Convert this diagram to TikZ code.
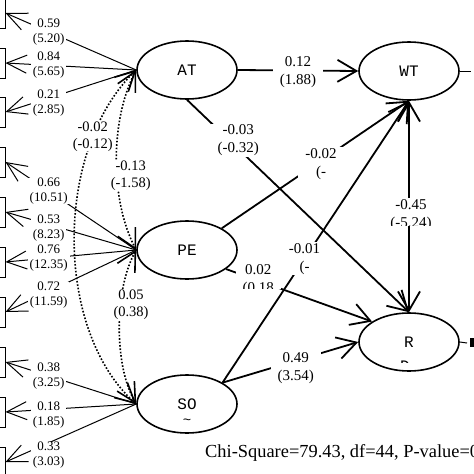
\documentclass[tikz,border=0pt]{standalone}
\usepackage{fontspec}
\setmainfont{Liberation Serif}
\newfontfamily\latfont{Liberation Mono}
\usetikzlibrary{arrows.meta,positioning,shapes.geometric}

\begin{document}
\begin{tikzpicture}[x=1pt,y=-1pt,
    lat/.style={ellipse,draw,line width=1.6pt,minimum width=100pt,minimum height=58pt,inner sep=0pt,font=\latfont\fontsize{16}{17}\selectfont},
    ind/.style={rectangle,draw,line width=1pt,minimum width=30pt,minimum height=30pt,inner sep=0pt},
    load/.style={->,>={Straight Barb[length=20pt,width=18pt]},line width=1pt},
    eff/.style={->,>={Straight Barb[length=19pt,width=22pt]},line width=1.8pt},
    cov/.style={<->,>={Straight Barb[length=19pt,width=20pt]},line width=1.6pt,dash pattern=on 1.6pt off 1.8pt},
    ld/.style={fill=white,align=center,inner xsep=2pt,inner ysep=0pt,font=\fontsize{13}{15}\selectfont},
    cv/.style={fill=white,align=center,inner xsep=2pt,inner ysep=0pt,font=\fontsize{14.5}{17}\selectfont},
    coef/.style={fill=white,align=center,inner xsep=7pt,inner ysep=1pt,font=\fontsize{15}{18}\selectfont}]
  \useasboundingbox (0,0) rectangle (474,474);
  \clip (0,0) rectangle (474,474);

  \node[lat] (AT) at (187,70) {AT};
  \node[lat] (WT) at (409,71) {WT};
  \node[lat] (PE) at (187,250) {PE};
  \node[lat,label={[font=\latfont\fontsize{14}{15}\selectfont,yshift=-18pt]center:\textasciitilde}] (SO) at (187,404) {SO};
  \node[lat] (R) at (409,342) {R};
  \begin{scope}
    \clip (390,350) rectangle (430,362);
    \node[font=\latfont\fontsize{16}{17}\selectfont] (Rlow) at (405,366) {D};
  \end{scope}

  \node[ind] (x1) at (-10,13) {};
  \node[ind] (x2) at (-10,63) {};
  \node[ind] (x3) at (-10,112) {};
  \node[ind] (x4) at (-10,162) {};
  \node[ind] (x5) at (-10,212) {};
  \node[ind] (x6) at (-10,262) {};
  \node[ind] (x7) at (-10,312) {};
  \node[ind] (x8) at (-10,362) {};
  \node[ind] (x9) at (-10,412) {};
  \node[ind] (x10) at (-10,462) {};

  \draw[load] (AT.west) -- node[ld,pos=.67] {0.59\\(5.20)} (x1.east);
  \draw[load] (AT.west) -- node[ld,pos=.67] {0.84\\(5.65)} (x2.east);
  \draw[load] (AT.west) -- node[ld,pos=.67,yshift=-5pt] {0.21\\(2.85)} (x3.east);
  \draw[load] (PE.west) -- node[ld,pos=.67] {0.66\\(10.51)} (x4.east);
  \draw[load] (PE.west) -- node[ld,pos=.67,yshift=-4pt] {0.53\\(8.23)} (x5.east);
  \draw[load] (PE.west) -- node[ld,pos=.67] {0.76\\(12.35)} (x6.east);
  \draw[load] (PE.west) -- node[ld,pos=.67,yshift=-4pt] {0.72\\(11.59)} (x7.east);
  \draw[load] (SO.west) -- node[ld,pos=.67] {0.38\\(3.25)} (x8.east);
  \draw[load] (SO.west) -- node[ld,pos=.67,yshift=-6pt] {0.18\\(1.85)} (x9.east);
  \draw[load] (SO.west) -- node[ld,pos=.67,yshift=-12pt] {0.33\\(3.03)} (x10.east);

  \draw[cov] (AT.west) .. controls (54,150) and (54,330) .. node[cv,pos=.2,xshift=-4pt,yshift=-8pt] {-0.02\\(-0.12)} (SO.west);
  \draw[cov] (AT.west) .. controls (110,120) and (110,200) .. node[cv,pos=.55,xshift=14pt,yshift=-6pt] {-0.13\\(-1.58)} (PE.west);
  \draw[cov] (PE.west) .. controls (114,290) and (114,366) .. node[cv,pos=.35,xshift=10pt,yshift=-3pt] {0.05\\(0.38)} (SO.west);

  \draw[eff] (AT.east) -- node[coef,pos=.5,yshift=-2pt] {0.12\\(1.88)} (WT.west);
  \draw[eff] (AT.south) -- node[coef,pos=.19,xshift=9pt] {-0.03\\(-0.32)} (R.north);
  \draw[eff] (PE.32) -- node[coef,pos=.53,yshift=-3pt] {-0.02\\(-} (WT.south);
  \draw[eff] (SO.31) -- node[coef,pos=.44] {-0.01\\(-} (WT.south);
  \draw[eff] (SO.31) -- node[coef,pos=.54,yshift=-7pt] {0.49\\(3.54)} (R.west);
  \draw[eff] (PE.-26) -- coordinate[pos=.22] (pr) (R.151);
  \draw[eff,<->] (WT.south) -- coordinate[pos=.54] (wr) (R.north);
  \begin{scope}
    \clip (220,255) rectangle (300,288);
    \node[coef] (prl) at (pr) {0.02\\(0.18};
  \end{scope}
  \begin{scope}
    \clip (370,180) rectangle (450,225);
    \node[coef,xshift=2pt] (wrl) at (wr) {-0.45\\(-5.24)};
  \end{scope}

  \coordinate (wte) at (471,71);
  \coordinate (re) at (467,343);
  \draw[line width=1pt] (WT.east) -- (wte);
  \draw[line width=1pt] (R.east) -- (re);
  \fill (470,338) rectangle (474,347);

  \node[anchor=base west,inner sep=0pt,font=\fontsize{18.4}{20}\selectfont] (fit) at (205,457) {Chi-Square=79.43, df=44, P-value=0};
\end{tikzpicture}
\end{document}
